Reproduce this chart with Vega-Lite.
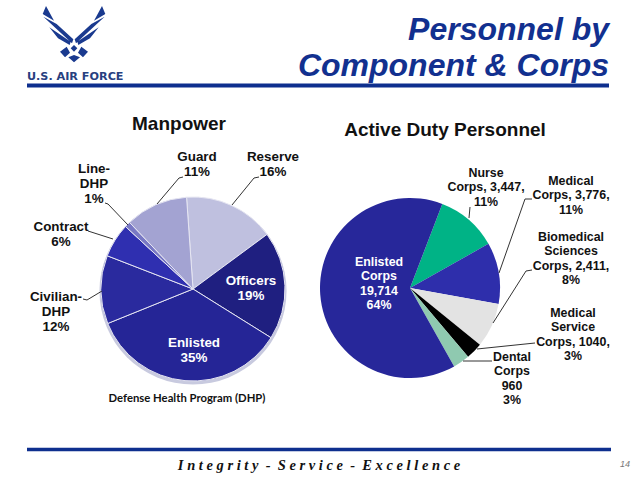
{"$schema":"https://vega.github.io/schema/vega-lite/v6.json","width":638,"height":478,"padding":0,"autosize":{"type":"fit","contains":"padding"},"background":"white","config":{"axis":{"disable":true},"view":{"stroke":null},"text":{"font":"Liberation Sans","fontWeight":"bold","fontSize":13.4,"lineBreak":"\n","lineHeight":15,"color":"#111111","baseline":"middle"},"rule":{"color":"#333333","strokeWidth":1}},"datasets":{"manpower":[{"rank":1,"slice":"Reserve","share":16,"label":"Reserve\n16%"},{"rank":2,"slice":"Officers","share":19,"label":"Officers\n19%"},{"rank":3,"slice":"Enlisted","share":35,"label":"Enlisted\n35%"},{"rank":4,"slice":"Civilian-DHP","share":12,"label":"Civilian-\nDHP\n12%"},{"rank":5,"slice":"Contract","share":6,"label":"Contract\n6%"},{"rank":6,"slice":"Line-DHP","share":1,"label":"Line-\nDHP\n1%"},{"rank":7,"slice":"Guard","share":11,"label":"Guard\n11%"}],"active":[{"rank":1,"slice":"Nurse Corps","share":11,"label":"Nurse\nCorps, 3,447,\n11%"},{"rank":2,"slice":"Medical Corps","share":11,"label":"Medical\nCorps, 3,776,\n11%"},{"rank":3,"slice":"Biomedical Sciences Corps","share":8,"label":"Biomedical\nSciences\nCorps, 2,411,\n8%"},{"rank":4,"slice":"Medical Service Corps","share":3,"label":"Medical\nService\nCorps, 1040,\n3%"},{"rank":5,"slice":"Dental Corps","share":3,"label":"Dental\nCorps\n960\n3%"},{"rank":6,"slice":"Enlisted Corps","share":64,"label":"Enlisted\nCorps\n19,714\n64%"}]},"data":{"values":[{"slide":"Personnel by Component & Corps"}]},"resolve":{"scale":{"theta":"independent","color":"independent"}},"layer":[
{"mark":{"type":"rule","color":"#0e2f8e","strokeWidth":4},"encoding":{"x":{"datum":27,"scale":{"domain":[0,638],"nice":false,"zero":false}},"x2":{"datum":609},"y":{"datum":85.5,"scale":{"domain":[0,478],"nice":false,"zero":false,"reverse":true}}}},
{"mark":{"type":"rule","color":"#0e2f8e","strokeWidth":3.5},"encoding":{"x":{"datum":27},"x2":{"datum":611},"y":{"datum":449.5}}},
{"mark":{"type":"point","filled":true,"opacity":1,"color":"#1a3a8f","size":4096,"shape":"M-.875,-.875L-.625,-.417L-.979,-.625ZM-.958,-.542L-.542,-.312L-.021,.167L-.062,.292ZM-.771,-.208L-.104,.24L-.135,.344L-.5,.135ZM.875,-.875L.625,-.417L.979,-.625ZM.958,-.542L.542,-.312L.021,.167L.062,.292ZM.771,-.208L.104,.24L.135,.344L.5,.135ZM-.4375,.552L-.229,.396L-.125,.583L-.281,.729ZM.4375,.552L.229,.396L.125,.583L.281,.729ZM0,.344L.104,.448L0,.552L-.104,.448ZM-.177,.729L0,.656L.188,.729L0,.885Z"},"encoding":{"x":{"datum":74},"y":{"datum":34}}},
{"mark":{"type":"text","text":"U.S. AIR FORCE","align":"left","fontSize":11.2,"fontWeight":"bold","font":"DejaVu Sans","color":"#27407f"},"encoding":{"x":{"datum":27},"y":{"datum":76.5}}},
{"mark":{"type":"text","text":"Personnel by","align":"right","fontSize":32,"fontStyle":"italic","color":"#12308f"},"encoding":{"x":{"datum":609},"y":{"datum":30}}},
{"mark":{"type":"text","text":"Component & Corps","align":"right","fontSize":32,"fontStyle":"italic","color":"#12308f"},"encoding":{"x":{"datum":609},"y":{"datum":66}}},
{"mark":{"type":"text","text":"Manpower","fontSize":19},"encoding":{"x":{"datum":179},"y":{"datum":124}}},
{"mark":{"type":"text","text":"Active Duty Personnel","fontSize":19},"encoding":{"x":{"datum":445},"y":{"datum":130}}},
{"mark":{"type":"point","filled":true,"opacity":1,"color":"#c8cadf","shape":"circle","size":35000},"encoding":{"x":{"datum":193},"y":{"datum":291}}},
{"data":{"name":"manpower"},"mark":{"type":"arc","radius":92,"stroke":"#e6e6f2","strokeWidth":1},"encoding":{"x":{"datum":193},"y":{"datum":289},"theta":{"field":"share","type":"quantitative","stack":true,"scale":{"domain":[0,100],"range":[-0.07,6.213]}},"order":{"field":"rank"},"color":{"field":"slice","type":"nominal","legend":null,"scale":{"domain":["Reserve","Officers","Enlisted","Civilian-DHP","Contract","Line-DHP","Guard"],"range":["#bfc0df","#1f1f80","#252596","#2a2a9e","#2f2fb0","#7878c4","#a3a3d2"]}}}},
{"data":{"name":"active"},"mark":{"type":"arc","radius":90},"encoding":{"x":{"datum":410},"y":{"datum":288},"theta":{"field":"share","type":"quantitative","stack":true,"scale":{"domain":[0,100],"range":[0.367,6.65]}},"order":{"field":"rank"},"color":{"field":"slice","type":"nominal","legend":null,"scale":{"domain":["Nurse Corps","Medical Corps","Biomedical Sciences Corps","Medical Service Corps","Dental Corps","Enlisted Corps"],"range":["#00b386","#2e2eab","#e3e3e3","#000000","#8fc9b0","#27279a"]}}}},
{"mark":"rule","encoding":{"x":{"datum":157},"y":{"datum":204},"x2":{"datum":179},"y2":{"datum":178}}},
{"mark":"rule","encoding":{"x":{"datum":179},"y":{"datum":178},"x2":{"datum":183},"y2":{"datum":177}}},
{"mark":"rule","encoding":{"x":{"datum":232},"y":{"datum":205},"x2":{"datum":254},"y2":{"datum":178}}},
{"mark":"rule","encoding":{"x":{"datum":254},"y":{"datum":178},"x2":{"datum":259},"y2":{"datum":177}}},
{"mark":"rule","encoding":{"x":{"datum":128},"y":{"datum":225},"x2":{"datum":108},"y2":{"datum":204}}},
{"mark":"rule","encoding":{"x":{"datum":108},"y":{"datum":204},"x2":{"datum":105},"y2":{"datum":203}}},
{"mark":"rule","encoding":{"x":{"datum":113},"y":{"datum":239},"x2":{"datum":88},"y2":{"datum":231}}},
{"mark":"rule","encoding":{"x":{"datum":102},"y":{"datum":291},"x2":{"datum":87},"y2":{"datum":300}}},
{"mark":"rule","encoding":{"x":{"datum":87},"y":{"datum":300},"x2":{"datum":83},"y2":{"datum":299}}},
{"mark":"rule","encoding":{"x":{"datum":469},"y":{"datum":218},"x2":{"datum":470},"y2":{"datum":207}}},
{"mark":"rule","encoding":{"x":{"datum":499},"y":{"datum":273},"x2":{"datum":525},"y2":{"datum":199}}},
{"mark":"rule","encoding":{"x":{"datum":525},"y":{"datum":199},"x2":{"datum":532},"y2":{"datum":199}}},
{"mark":"rule","encoding":{"x":{"datum":493},"y":{"datum":323},"x2":{"datum":526},"y2":{"datum":271}}},
{"mark":"rule","encoding":{"x":{"datum":526},"y":{"datum":271},"x2":{"datum":532},"y2":{"datum":270}}},
{"mark":"rule","encoding":{"x":{"datum":477},"y":{"datum":349},"x2":{"datum":535},"y2":{"datum":343}}},
{"mark":"rule","encoding":{"x":{"datum":463},"y":{"datum":361},"x2":{"datum":492},"y2":{"datum":361}}},
{"data":{"name":"manpower"},"transform":[{"filter":"datum.slice==='Guard'"}],"mark":"text","encoding":{"text":{"field":"label"},"x":{"datum":197},"y":{"datum":157}}},
{"data":{"name":"manpower"},"transform":[{"filter":"datum.slice==='Reserve'"}],"mark":"text","encoding":{"text":{"field":"label"},"x":{"datum":273},"y":{"datum":157}}},
{"data":{"name":"manpower"},"transform":[{"filter":"datum.slice==='Line-DHP'"}],"mark":"text","encoding":{"text":{"field":"label"},"x":{"datum":94},"y":{"datum":169}}},
{"data":{"name":"manpower"},"transform":[{"filter":"datum.slice==='Contract'"}],"mark":"text","encoding":{"text":{"field":"label"},"x":{"datum":61},"y":{"datum":227}}},
{"data":{"name":"manpower"},"transform":[{"filter":"datum.slice==='Civilian-DHP'"}],"mark":"text","encoding":{"text":{"field":"label"},"x":{"datum":56},"y":{"datum":297}}},
{"data":{"name":"manpower"},"transform":[{"filter":"datum.slice==='Officers'"}],"mark":{"type":"text","color":"white"},"encoding":{"text":{"field":"label"},"x":{"datum":251},"y":{"datum":281}}},
{"data":{"name":"manpower"},"transform":[{"filter":"datum.slice==='Enlisted'"}],"mark":{"type":"text","color":"white"},"encoding":{"text":{"field":"label"},"x":{"datum":194},"y":{"datum":343}}},
{"data":{"name":"active"},"transform":[{"filter":"datum.slice==='Enlisted Corps'"}],"mark":{"type":"text","color":"white","fontSize":12.4,"lineHeight":14.4},"encoding":{"text":{"field":"label"},"x":{"datum":379},"y":{"datum":262}}},
{"data":{"name":"active"},"transform":[{"filter":"datum.slice==='Nurse Corps'"}],"mark":{"type":"text","fontSize":12.4,"lineHeight":14.4},"encoding":{"text":{"field":"label"},"x":{"datum":486},"y":{"datum":173}}},
{"data":{"name":"active"},"transform":[{"filter":"datum.slice==='Medical Corps'"}],"mark":{"type":"text","fontSize":12.4,"lineHeight":14.4},"encoding":{"text":{"field":"label"},"x":{"datum":571},"y":{"datum":181}}},
{"data":{"name":"active"},"transform":[{"filter":"datum.slice==='Biomedical Sciences Corps'"}],"mark":{"type":"text","fontSize":12.4,"lineHeight":14.4},"encoding":{"text":{"field":"label"},"x":{"datum":571},"y":{"datum":237}}},
{"data":{"name":"active"},"transform":[{"filter":"datum.slice==='Medical Service Corps'"}],"mark":{"type":"text","fontSize":12.4,"lineHeight":14.4},"encoding":{"text":{"field":"label"},"x":{"datum":573},"y":{"datum":313}}},
{"data":{"name":"active"},"transform":[{"filter":"datum.slice==='Dental Corps'"}],"mark":{"type":"text","fontSize":12.4,"lineHeight":14.4},"encoding":{"text":{"field":"label"},"x":{"datum":512},"y":{"datum":357}}},
{"mark":{"type":"text","text":"Defense Health Program (DHP)","font":"Lato","fontSize":11.3},"encoding":{"x":{"datum":187},"y":{"datum":399}}},
{"mark":{"type":"text","text":"I n t e g r i t y \u00a0-\u00a0 S e r v i c e \u00a0-\u00a0 E x c e l l e n c e","font":"Liberation Serif","fontStyle":"italic","fontSize":14.5},"encoding":{"x":{"datum":319},"y":{"datum":466}}},
{"mark":{"type":"text","text":"14","fontStyle":"italic","fontWeight":"normal","fontSize":9,"color":"#777777"},"encoding":{"x":{"datum":625},"y":{"datum":464}}}
]}
